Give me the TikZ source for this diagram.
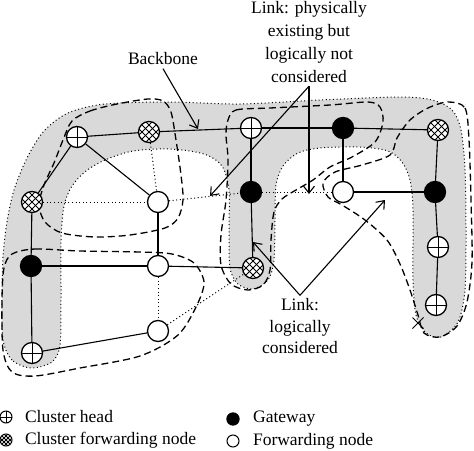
\documentclass[tikz,border=0pt]{standalone}
\usepackage{fontspec}
\setmainfont{Liberation Serif}
\usepackage{tikz}
\usetikzlibrary{arrows.meta}
\usetikzlibrary{shapes.misc,positioning}
\tikzset{>={Straight Barb[length=7pt,width=11pt]}}
\colorlet{backbonegray}{black!15}

\begin{document}
\begin{tikzpicture}[x=1pt,y=-1pt,
    font=\fontsize{17.5}{23}\selectfont,
    nd/.style={circle, draw, line width=1.3pt, minimum size=21pt, inner sep=0pt},
    chead/.style={nd, fill=white, path picture={
        \draw[line width=1pt] (path picture bounding box.west) -- (path picture bounding box.east)
          (path picture bounding box.north) -- (path picture bounding box.south);}},
    cfwd/.style={nd, fill=white, path picture={
        \foreach \o in {-#1,0,#1} {
          \draw[line width=0.9pt] (path picture bounding box.center) ++(\o pt-14pt,-14pt) -- ++(28pt,28pt);
          \draw[line width=0.9pt] (path picture bounding box.center) ++(\o pt-14pt,14pt) -- ++(28pt,-28pt);}}},
    cfwd/.default=7,
    gway/.style={nd, fill=black},
    fwd/.style={nd, fill=white},
    link/.style={line width=1.1pt},
    nolink/.style={line width=1pt, dash pattern=on 1pt off 2.6pt},
    cluster/.style={line width=1.3pt, dash pattern=on 7pt off 4pt},
    pointer/.style={->, line width=1.1pt}]
    \useasboundingbox (0,0) rectangle (474,450);

    % backbone
    \path[fill=backbonegray, draw, nolink] plot[smooth cycle] coordinates {
      (31,368) (12,360) (3,340) (2,300) (3,257) (7,222) (14,190) (27,158)
      (44,131) (68,113) (105,104) (170,102) (240,104) (320,100) (400,97)
      (432,100) (452,110) (461,130) (465,170) (466,230) (465,290) (458,322)
      (441,337) (426,333) (416,315) (413,280) (413,210) (410,180) (402,162)
      (388,151) (360,147) (320,148) (298,153) (283,166) (276,185) (275,220)
      (274,260) (268,280) (253,289) (238,284) (230,268) (229,230) (229,190)
      (222,166) (204,154) (170,149) (133,151) (105,160) (86,171) (72,186)
      (64,206) (61,240) (61,300) (60,345) (52,362)};

    % clusters
    \draw[cluster] plot[smooth cycle] coordinates {
      (72,121) (90,111) (117,104) (148,99) (163,101) (171,112) (176,140)
      (181,175) (183,200) (178,218) (165,228) (130,235) (95,237) (62,233)
      (45,222) (39,205) (44,185) (54,163) (63,140)};
    \draw[cluster] plot[smooth cycle] coordinates {
      (12,254) (35,249) (80,251) (140,252) (172,254) (194,263) (204,282)
      (197,305) (178,335) (140,356) (80,368) (35,376) (12,372) (3,350)
      (2,300) (4,268)};
    \draw[cluster] plot[smooth cycle] coordinates {
      (228,120) (236,110) (270,108) (330,105) (368,102) (380,107) (383,122)
      (375,142) (352,157) (330,167) (313,180) (296,190) (282,199) (274,212)
      (271,240) (270,270) (263,285) (248,290) (231,284) (221,265) (221,235)
      (226,200) (228,160) (226,135)};
    \draw[cluster] plot[smooth cycle] coordinates {
      (448,102) (465,108) (469,140) (471,200) (472,262) (467,302) (457,326)
      (440,337) (424,333) (418,315) (410,290) (400,264) (387,240) (365,220)
      (342,205) (328,197) (323,183) (335,172) (362,165) (390,155) (397,138)
      (410,120) (428,108)};
    \node (cut) [cross out, draw, line width=1pt, minimum size=10pt, inner sep=0pt] at (418,323) {};

    % nodes
    \node (ch1) [chead] at (77,137) {};
    \node (cf1) [cfwd] at (149,132) {};
    \node (cf2) [cfwd] at (32,202) {};
    \node (f1) [fwd] at (158,202) {};
    \node (g1) [gway] at (31,266) {};
    \node (f2) [fwd] at (158,266) {};
    \node (f3) [fwd] at (158,331) {};
    \node (ch2) [chead] at (32,353) {};
    \node (ch3) [chead] at (251,128) {};
    \node (g2) [gway] at (251,192) {};
    \node (cf3) [cfwd] at (253,268) {};
    \node (g3) [gway] at (343,128) {};
    \node (f4) [fwd] at (343,192) {};
    \node (cf4) [cfwd] at (438,130) {};
    \node (g4) [gway] at (435,192) {};
    \node (ch4) [chead] at (438,247) {};
    \node (ch5) [chead] at (436,305) {};

    % links not considered
    \path[nolink] (cf2) edge (f1);
    \path[nolink] (cf1) edge (f1);
    \path[nolink] (f1) edge (g2);
    \path[nolink] (g2) edge (f4);
    \path[nolink] (f2) edge (f3);
    \path[nolink] (f3) edge (cf3);

    % links considered
    \path[link] (ch1) edge (cf1);
    \path[link] (ch1) edge (cf2);
    \path[link] (ch1) edge (f1);
    \path[link] (cf1) edge (ch3);
    \path[link] (cf2) edge (g1);
    \path[link] (f1) edge (f2);
    \path[link] (g1) edge (f2);
    \path[link] (g1) edge (ch2);
    \path[link] (ch2) edge (f3);
    \path[link] (f2) edge (cf3);
    \path[link] (ch3) edge (g2);
    \path[link] (g2) edge (cf3);
    \path[link] (ch3) edge (g3);
    \path[link] (g3) edge (cf4);
    \path[link] (g3) edge (f4);
    \path[link] (f4) edge (g4);
    \path[link] (cf4) edge (g4);
    \path[link] (g4) edge (ch4);
    \path[link] (ch4) edge (ch5);

    % labels
    \node (bbl) at (163,59) {Backbone};
    \node (phys) [align=center] at (309,42) {Link: physically\\existing but\\logically not\\considered};
    \node (logi) [align=center, font=\fontsize{17.5}{21.5}\selectfont] at (300,326.5) {Link:\\logically\\considered};
    \coordinate (bbtip) at (198,129);
    \coordinate (nltipa) at (210,196);
    \coordinate (nltipb) at (309,194);
    \coordinate (lctipa) at (253,242);
    \coordinate (lctipb) at (385,200);
    \draw[pointer] (bbl.south) -- (bbtip);
    \draw[pointer] (phys.south) -- (nltipa);
    \draw[pointer] (phys.south) -- (nltipb);
    \draw[pointer] (logi.north) -- (lctipa);
    \draw[pointer] (logi.north) -- (lctipb);

    % legend
    \node (lch) [chead, minimum size=12pt, line width=1pt] at (6,417) {};
    \node (lchtxt) [right=9pt of lch] {Cluster head};
    \node (lcf) [cfwd=4, minimum size=12pt, line width=1pt] at (6,440) {};
    \node (lcftxt) [right=9pt of lcf] {Cluster forwarding node};
    \node (lgw) [gway, minimum size=12pt] at (233,419) {};
    \node (lgwtxt) [right=10pt of lgw] {Gateway};
    \node (lfw) [fwd, minimum size=12pt, line width=1pt] at (233,441) {};
    \node (lfwtxt) [right=10pt of lfw] {Forwarding node};
\end{tikzpicture}
\end{document}
